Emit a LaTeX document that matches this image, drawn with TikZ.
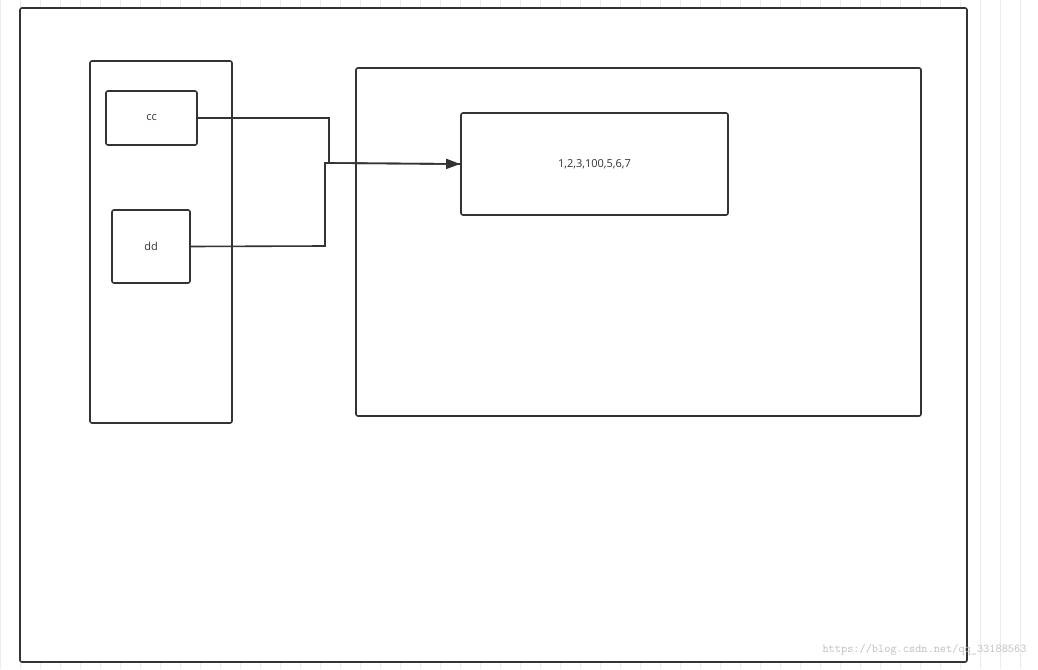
\documentclass[tikz,border=0pt]{standalone}
\usepackage{fontspec}
\setmainfont{Open Sans}
\usetikzlibrary{arrows.meta}
\definecolor{ln}{HTML}{333333}
\tikzset{box/.style={draw=ln,line width=1.6pt,rounded corners=2pt,fill=white},
 wire/.style={draw=ln,line width=1.6pt},
 lbl/.style={font=\fontsize{11}{13}\selectfont,text=ln}}
\begin{document}
\begin{tikzpicture}[x=1pt,y=-1pt]
\useasboundingbox (0,0) rectangle (1038,669);
\fill[white] (0,0) rectangle (1038,669);
\draw[black!8,line width=0.6pt,step=20] (0,0) grid (1038,669);
\draw[box] (20,8) rectangle (967,662);
\draw[box] (90,61) rectangle (232,423);
\node[box,minimum width=91pt,minimum height=54pt,lbl] (cc) at (151.5,118) {cc};
\node[box,minimum width=78pt,minimum height=73pt,lbl] (dd) at (151,246.5) {dd};
\draw[box] (356,68) rectangle (921,416);
\node[box,minimum width=267pt,minimum height=102pt,lbl] (v) at (594.5,164) {1,2,3,100,5,6,7};
\draw[wire] (cc.east) -- (329,118) -- (329,163) -- (v.west);
\draw[wire,-{Triangle[length=14pt,width=10pt]}] (dd.east) -- (325,246) -- (325,163) -- (v.west);
\node[anchor=east,text=black!25,font=\ttfamily\fontsize{12}{14}\selectfont] (wm) at (1030,650) {https://blog.csdn.net/qq\_33188563};
\end{tikzpicture}
\end{document}
